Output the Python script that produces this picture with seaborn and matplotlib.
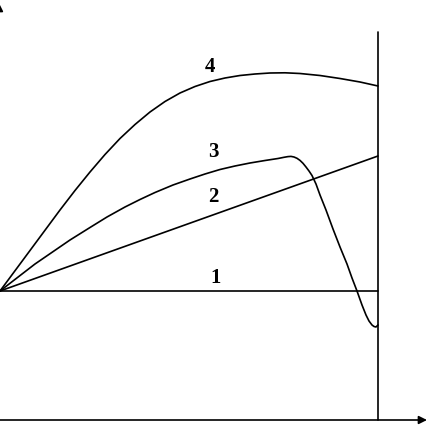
import matplotlib
matplotlib.use("Agg")
import matplotlib.pyplot as plt
import seaborn as sns
import pandas as pd

# values, x along the time axis, y above the baseline
t1 = [0, 378]
y1 = [129, 129]

t2 = [0, 378]
y2 = [129, 264]

t3 = [0, 35, 70, 90, 107, 125, 140, 155, 173, 190, 205, 220, 235, 250, 265,
      278, 284, 288, 291, 294, 297, 300, 303, 306, 309, 312, 316, 320, 326, 333,
      340, 347, 352, 357, 362, 366, 369, 372, 374, 376, 378]
y3 = [129, 156, 180, 192.5, 203, 213, 220.5, 227.5, 235, 241, 246, 250.5, 254, 257, 259.5,
      261.5, 262.7, 263.4, 263.6, 263, 261.7, 259.6, 256.7, 253, 249, 244.5, 236, 225, 210, 191,
      173, 156, 142, 129, 115, 105, 99, 95, 93.5, 93, 95]

t4 = [0, 20, 40, 60, 75, 90, 105, 120, 135, 150, 165, 180, 195, 210, 225,
      240, 255, 270, 285, 300, 320, 340, 360, 378]
y4 = [129, 156, 183, 210, 229.5, 248, 265.5, 281.5, 295.5, 308, 318.5, 327, 333.5, 338.5, 342,
      344.5, 346, 347, 347.2, 346.5, 344.5, 341.5, 338, 334]

curve_labels = ["1", "2", "3", "4"]
label_x = [216, 213, 213, 210]
label_y = [142, 223, 268, 353]

rows = []
for name, xs, ys in zip(curve_labels, [t1, t2, t3, t4], [y1, y2, y3, y4]):
    for a, b in zip(xs, ys):
        rows.append({"t": a, "y": b, "curve": name})
df = pd.DataFrame(rows)

sns.set_style("white")
plt.rcParams["font.family"] = ["Liberation Serif", "DejaVu Serif"]

fig = plt.figure(figsize=(4.26, 4.26), dpi=100)
ax = fig.add_axes([0, 0, 1, 1])

sns.lineplot(data=df, x="t", y="y", units="curve", estimator=None, sort=False,
             color="black", linewidth=1.2, ax=ax, legend=False)
for line in ax.lines:
    line.set_solid_joinstyle("round")

for lab, lx, ly in zip(curve_labels, label_x, label_y):
    ax.text(lx, ly, lab, ha="center", va="center", fontsize=15,
            fontweight="bold", color="black")

# vertical end line
ax.plot([378, 378], [0, 388], color="black", linewidth=1.2)

# axes arrows
ax.annotate("", xy=(427, 0), xytext=(-5, 0), annotation_clip=False,
            arrowprops=dict(arrowstyle="-|>", color="black", lw=1.2,
                            mutation_scale=12, shrinkA=0, shrinkB=0))
ax.annotate("", xy=(-1, 417), xytext=(-1, -5), annotation_clip=False,
            arrowprops=dict(arrowstyle="-|>", color="black", lw=1.2,
                            mutation_scale=12, shrinkA=0, shrinkB=0))

ax.set_xlim(0, 426)
ax.set_ylim(-6, 420)
ax.set_axis_off()

fig.savefig("out.png", dpi=100)
